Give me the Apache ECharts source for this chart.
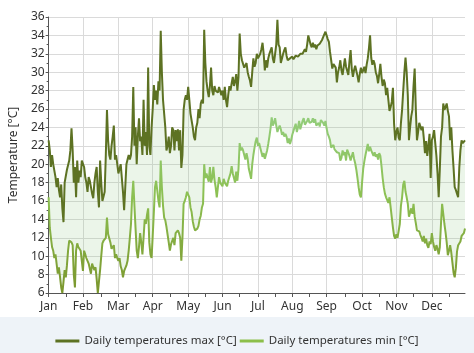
<!DOCTYPE html>
<html>
<head>
<meta charset="utf-8">
<script src="https://cdn.jsdelivr.net/npm/echarts@6/dist/echarts.min.js"></script>
<style>
html,body{margin:0;padding:0;background:#fff;}
#chart{width:474px;height:353px;}
</style>
</head>
<body>
<div id="chart"></div>
<script>
const months = ['Jan','Feb','Mar','Apr','May','Jun','Jul','Aug','Sep','Oct','Nov','Dec'];
const yTicks = [6,8,10,12,14,16,18,20,22,24,26,28,30,32,34,36];

// Daily maximum temperatures [°C], day 1 .. day 365
const maxTemps = [
22.6,21.5,19.7,21,20,19.3,18.6,17.5,18.5,17.2,16.4,17.8,15.2,13.7,18,17.8,19.4,19.5,20.4,21.5,
23.9,21.5,18,19.7,16.4,20.4,18,19.3,18.6,20.4,20.4,19.7,18.6,18,17,18.6,18.2,17.5,16.8,16.3,
18,19,19.7,17,15.3,20.4,18,16,16.5,17,21,25.9,22.6,21,20.5,22,23,24.2,20.5,21,
20,19,19,20,18.5,17,15,17.5,20,20.5,21,20.5,21,23,28.4,22,24,20,23,25,
22.5,23,21,27,22,23.5,21,30.5,22,21,24,26,28.6,27,28,26.5,29,28,34.5,30,
27,25.5,24,21.5,22,23,21.2,22,24,23.7,21.5,23.7,22.5,23.8,21.5,23.7,19.6,21,25.9,27,
27.5,27,28.4,27,25.5,25.5,24,23,22.6,24,24.5,26,25,26.6,27,26.6,34.6,31,29,28,
27.3,28.5,30.5,28,27.5,28.5,28,28.2,27.8,28.4,28.4,27.5,28,27,28.4,27,26.2,27.5,28.5,28,
28.8,29.5,28.5,29,29.8,28,29.5,34.2,32,31.3,31.5,30.5,30.6,31,30,29.5,29.1,28.4,30,31.5,
30.6,31,32,31.5,31.7,32,32.5,33.2,32,30.2,31.3,30.5,31.5,32,32.2,32.7,31.5,31,32,33,
35.7,33,32.7,31,31.5,32,32.4,32.7,31.8,31.3,31.3,31.5,31.6,31.7,31.4,31.5,31.8,31.6,31.7,31.8,
32,31.8,32,32.2,32.5,32.2,33,34,33.5,33,32.7,33.2,32.7,33,32.5,32.9,32.7,33.1,33,33.5,
33.8,34,34.4,34,33.6,33.3,32.2,31.3,30.4,30.9,31,30.5,28.9,30,30.5,31.3,30.2,29.7,29.5,31.5,
30.6,30.8,29.7,31.2,32.4,30.4,29.5,30.2,30.7,30.5,29.6,28.9,29.8,30.5,29.9,30.2,30.6,29.9,30.8,31.5,
32.6,34,31.6,30.8,31.3,30.9,30,29.6,28.8,29.8,30.9,29.5,28.5,29.2,28.8,27.5,28.3,27,25.8,26.2,
26.8,28.3,24.4,22.6,23.5,24,22.9,22.6,24.5,25.9,28,30,31.6,30,27.5,22.6,24,25.2,25.9,28.5,
30.4,26,22.6,23.5,24.5,24.4,23.7,24.1,22.8,21.2,22.5,20.9,22,23.3,18.5,22.6,23,23.7,22.3,20.9,
19,16.4,19.5,23,24,26.6,25.9,26.2,26.6,25.8,25.2,22.6,24,21.5,19.6,17.5,17.2,16.8,16.4,19.6,
21.5,22.6,22.3,22.5,22.6
];

// Daily minimum temperatures [°C], day 1 .. day 365
const minTemps = [
16.4,13.1,12,11,10.6,9.8,10.2,10,8.1,8.8,8.8,6.6,6,7.2,8.5,7.7,9,10.6,11.7,11.9,
11.5,11.2,8,6.6,10.6,11.4,11,11.2,10.6,9.5,8.4,10.6,10.2,9.8,10,9.2,9,8.1,9.2,8.8,
8.5,8.8,7.5,6,6,8.5,10,11.4,11.7,11.5,12,14.2,12.4,12.2,11.5,10.8,10.6,11.2,9.8,10.2,
9.8,9.5,9.8,8.9,8.5,7.7,8.4,8.2,9,9.5,10.6,12,13.5,16.4,18.2,15.5,13,10.6,9.8,11,
12.5,11.5,10.2,12,14,13.5,14.5,15.2,11.5,10.2,9.8,12.2,14.8,17.5,18.2,18,16,15.3,20.4,17.5,
15.5,14.2,13.9,13.2,13,11.5,10.6,11.3,11.5,12,11.2,12.5,12.3,12.8,12.5,12,9.5,12,15.7,16,
16.4,17,16.7,16.4,15.3,14.8,13.8,13.2,12.8,12.8,13,13.3,14,14.4,15.3,15.7,20,18.5,19,18.5,
18.1,19.7,18,18.5,19.7,18.3,17.5,16.4,17.5,18.6,18,17.9,17.6,18.4,18,17.8,17.6,18.2,18.6,19,
19.8,19,18.5,18,19.2,18.2,19.5,22.3,21.5,21.8,21.5,21,20.5,21.2,20.6,19.5,19,18.4,20,21,
21.8,22.5,22.9,22,22.3,21.8,21.3,20.8,21.2,20.6,20.4,21.5,22.2,23,23.9,25.1,24.2,24.5,25,24.2,
23.5,23.9,24.2,23.8,23.2,23.5,23,23.3,23,22.3,22.8,22.2,22.6,23.2,23.4,24,24.4,23.5,24,24.7,
23.8,24,24.7,25,24.3,24.1,24.7,25,24.5,24.3,24.6,25,24.5,24.9,24.2,24.4,24.5,24.1,24.8,24.7,
24.5,24.2,24.7,23.9,23.3,23,22.6,21.8,21.9,22.1,21.6,21.8,21.3,21.4,21.2,20.4,20.7,21.5,21,21.3,
20.4,21.6,21.4,20.9,20.4,20.5,21.3,20.6,20.1,19.4,18.5,17.5,16.7,16.4,18,19.5,20.3,21,21.6,22.2,
21.4,21.9,21.5,21.2,20.9,21.3,20.8,21.1,20.5,21.2,20.9,19.8,18.5,17.5,16.8,16.4,16.2,15.8,16.4,15.3,
14.2,13.1,12.2,11.9,12.4,12,12.2,13.5,15.5,16.4,17.8,18.2,17,16.4,15.7,14.3,14.1,15.2,14.6,15.7,
14.3,13.6,12.8,13,12.7,12.3,12,11.6,12.2,11.4,11.9,11.2,10.9,11.6,11.3,12.5,11.6,11,10.6,11.2,
10.8,10.2,11,13.5,15.7,14.6,13.5,12.6,11.5,10.1,10.6,11.2,10.4,9.3,8.2,7.7,8.7,10.5,11.2,11,
11.6,12.2,12,12.5,13
];

const chart = echarts.init(document.getElementById('chart'), null, {renderer: 'canvas'});
const days = maxTemps.map((_, i) => i);
const spanData = maxTemps.map((v, i) => +(v - minTemps[i]).toFixed(2));
const monthStarts = months.map((_, k) => Math.round(k * 365 / 12));
const halfMonths = months.map((_, k) => Math.round((k + 0.5) * 365 / 12));
const tickSet = new Set(monthStarts.concat(halfMonths));
const font = 'Noto Sans';
const maxColor = '#5d7223';
const minColor = '#8cbf4a';
const minGradient = new echarts.graphic.LinearGradient(0, 0, 0, 1, [
  {offset: 0, color: '#93cd7c'},
  {offset: 0.45, color: '#8cc052'},
  {offset: 1, color: '#7a952c'}
]);

chart.setOption({
  animation: false,
  backgroundColor: '#ffffff',
  textStyle: {fontFamily: font},
  graphic: [{
    type: 'rect', z: -10, silent: true,
    shape: {x: 0, y: 317, width: 474, height: 36},
    style: {fill: '#eef3f8'}
  }],
  grid: {left: 40, right: 9, top: 17, bottom: 60},
  legend: {
    top: 330,
    left: 'center',
    itemWidth: 24,
    itemHeight: 3,
    itemGap: 3,
    icon: 'rect',
    textStyle: {fontFamily: font, fontSize: 11.5, color: '#333'},
    data: [
      {name: 'Daily temperatures max [°C]', itemStyle: {color: maxColor}},
      {name: 'Daily temperatures min [°C]', itemStyle: {color: minColor}}
    ]
  },
  xAxis: {
    type: 'category',
    data: days,
    boundaryGap: false,
    axisLine: {show: true, lineStyle: {color: '#555', width: 1}},
    axisTick: {
      show: true, length: 4, lineStyle: {color: '#555'},
      interval: function (i) { return tickSet.has(i); }
    },
    splitLine: {
      show: true, lineStyle: {color: '#dadada', width: 1},
      interval: function (i) { return monthStarts.indexOf(i) >= 0; }
    },
    axisLabel: {
      fontFamily: font, fontSize: 12, color: '#333', margin: 8,
      interval: function (i) { return monthStarts.indexOf(i) >= 0; },
      formatter: function (v) {
        const k = monthStarts.indexOf(Number(v));
        return k >= 0 ? months[k] : '';
      }
    }
  },
  yAxis: {
    type: 'value',
    min: yTicks[0],
    max: yTicks[yTicks.length - 1],
    interval: yTicks[1] - yTicks[0],
    name: 'Temperature [°C]',
    nameLocation: 'middle',
    nameGap: 24,
    nameRotate: 90,
    nameTextStyle: {fontFamily: font, fontSize: 12, color: '#333'},
    axisLine: {show: true, lineStyle: {color: '#555', width: 1}},
    axisTick: {show: true, length: 3, lineStyle: {color: '#555'}},
    minorTick: {show: true, splitNumber: 2, length: 2, lineStyle: {color: '#555'}},
    splitLine: {show: true, lineStyle: {color: '#dadada', width: 1}},
    axisLabel: {fontFamily: font, fontSize: 12, color: '#333', margin: 4}
  },
  series: [
    {
      name: 'Daily temperatures min [°C]',
      type: 'line',
      stack: 'band',
      data: minTemps,
      showSymbol: false,
      symbol: 'none',
      lineStyle: {color: minGradient, width: 2},
      itemStyle: {color: minColor},
      z: 3
    },
    {
      name: 'Daily temperatures max [°C]',
      type: 'line',
      stack: 'band',
      data: spanData,
      showSymbol: false,
      symbol: 'none',
      lineStyle: {color: maxColor, width: 2},
      itemStyle: {color: maxColor},
      areaStyle: {color: 'rgba(140,200,130,0.25)'},
      z: 2
    }
  ]
});
</script>
</body>
</html>
